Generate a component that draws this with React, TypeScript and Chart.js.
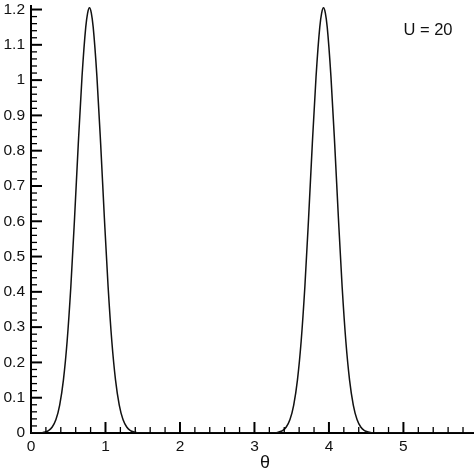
import React, { useRef, useEffect } from 'react';
import { Chart, registerables } from 'chart.js';

Chart.register(...registerables);

// theta (rad) and U
const thetaValues = [
  0, 0.135,
  0.185, 0.235, 0.285, 0.335, 0.385, 0.435, 0.485, 0.535, 0.585, 0.635, 0.685, 0.735, 0.76,
  0.785, 0.81, 0.835, 0.885, 0.935, 0.985, 1.035, 1.085, 1.135, 1.185, 1.235, 1.285, 1.335, 1.385,
  1.45, 3.26,
  3.327, 3.377, 3.427, 3.477, 3.527, 3.577, 3.627, 3.677, 3.727, 3.777, 3.827, 3.877, 3.902,
  3.927, 3.952, 3.977, 4.027, 4.077, 4.127, 4.177, 4.227, 4.277, 4.327, 4.377, 4.427, 4.477, 4.527,
  4.6, 6.283,
];
const uValues = [
  0, 0,
  0.003, 0.007, 0.017, 0.038, 0.079, 0.15, 0.26, 0.415, 0.61, 0.82, 1.01, 1.15, 1.19,
  1.205, 1.19, 1.15, 1.01, 0.82, 0.61, 0.415, 0.26, 0.15, 0.079, 0.038, 0.017, 0.007, 0.003,
  0, 0,
  0.003, 0.007, 0.017, 0.038, 0.079, 0.15, 0.26, 0.415, 0.61, 0.82, 1.01, 1.15, 1.19,
  1.205, 1.19, 1.15, 1.01, 0.82, 0.61, 0.415, 0.26, 0.15, 0.079, 0.038, 0.017, 0.007, 0.003,
  0, 0,
];

const xTickValues = [0, 1, 2, 3, 4, 5];
const yTickValues = [0, 0.1, 0.2, 0.3, 0.4, 0.5, 0.6, 0.7, 0.8, 0.9, 1, 1.1, 1.2];
const xTitle = 'θ';
const annotation = 'U = 20';

const FONT = "'Liberation Sans', Arial, sans-serif";
const X_MINOR = 0.2;
const Y_MINOR = 0.02;

// inward major/minor tick marks + the U label
const tickMarks = {
  id: 'tickMarks',
  afterDatasetsDraw(chart: any) {
    const { ctx, chartArea, scales } = chart;
    const xs = scales.x;
    const ys = scales.y;
    ctx.save();
    ctx.strokeStyle = '#000';
    for (let i = 1; ; i++) {
      const px = xs.getPixelForValue(i * X_MINOR);
      if (px > chartArea.right) break;
      const major = i % 5 === 0;
      ctx.lineWidth = major ? 2 : 1.3;
      ctx.beginPath();
      ctx.moveTo(px, chartArea.bottom);
      ctx.lineTo(px, chartArea.bottom - (major ? 11 : 6));
      ctx.stroke();
    }
    for (let i = 1; i * Y_MINOR <= ys.max + 1e-9; i++) {
      const py = ys.getPixelForValue(i * Y_MINOR);
      const major = i % 5 === 0;
      ctx.lineWidth = major ? 2 : 1.3;
      ctx.beginPath();
      ctx.moveTo(chartArea.left, py);
      ctx.lineTo(chartArea.left + (major ? 11 : 6), py);
      ctx.stroke();
    }
    ctx.fillStyle = '#111';
    ctx.font = `16.5px ${FONT}`;
    ctx.textAlign = 'center';
    ctx.textBaseline = 'middle';
    ctx.fillText(annotation, xs.getPixelForValue(5.33), ys.getPixelForValue(1.14));
    ctx.restore();
  },
};

export default function App() {
  const canvasRef = useRef<HTMLCanvasElement>(null);

  useEffect(() => {
    const canvas = canvasRef.current;
    if (!canvas) return;

    const chart = new Chart(canvas, {
      type: 'line',
      data: {
        datasets: [{
          data: thetaValues.map((t, i) => ({ x: t, y: uValues[i] })),
          borderColor: '#111',
          borderWidth: 1.5,
          pointRadius: 0,
          cubicInterpolationMode: 'monotone',
          fill: false,
        }],
      },
      options: {
        animation: false,
        responsive: true,
        maintainAspectRatio: false,
        layout: { padding: { top: 6, right: 0, left: 0, bottom: 0 } },
        plugins: { legend: { display: false }, tooltip: { enabled: false } },
        scales: {
          x: {
            type: 'linear',
            min: 0,
            max: 2 * Math.PI,
            afterBuildTicks: (s: any) => { s.ticks = xTickValues.map(v => ({ value: v })); },
            afterFit: (s: any) => { s.height = 41; s.paddingLeft = 0; s.paddingRight = 0; },
            grid: { display: false, drawTicks: false },
            border: { display: true, color: '#000', width: 2 },
            ticks: {
              padding: 4,
              color: '#111',
              font: { size: 15.5, family: FONT },
              maxRotation: 0,
              autoSkip: false,
            },
            title: {
              display: true,
              text: xTitle,
              color: '#111',
              font: { size: 18, family: FONT },
              padding: { top: 0, bottom: 0 },
            },
          },
          y: {
            type: 'linear',
            min: 0,
            max: 1.21,
            afterBuildTicks: (s: any) => { s.ticks = yTickValues.map(v => ({ value: v })); },
            afterFit: (s: any) => { s.width = 31; s.paddingTop = 0; s.paddingBottom = 0; },
            grid: { display: false, drawTicks: false },
            border: { display: true, color: '#000', width: 2 },
            ticks: {
              padding: 6,
              color: '#111',
              font: { size: 15.5, family: FONT },
              autoSkip: false,
              callback: (v: any) => String(Number(Number(v).toFixed(2))),
            },
          },
        },
      },
      plugins: [tickMarks],
    });

    return () => chart.destroy();
  }, []);

  return (
    <div style={{ position: 'fixed', left: 0, top: 0, width: 474, height: 474, overflow: 'hidden', background: '#fff' }}>
      <div style={{ position: 'relative', width: 499, height: 474 }}>
        <canvas ref={canvasRef} />
      </div>
    </div>
  );
}
